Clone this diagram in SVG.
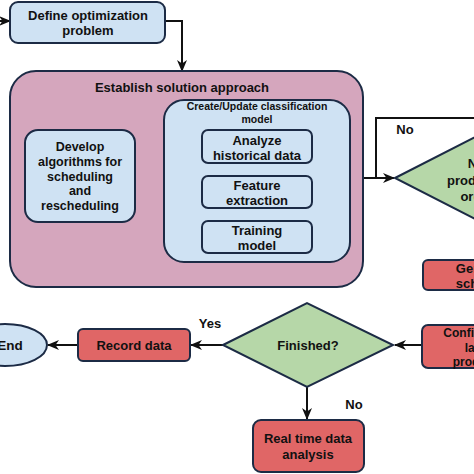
<svg xmlns="http://www.w3.org/2000/svg" width="474" height="474" viewBox="0 0 474 474">
<style>
.t{font-family:"Liberation Sans",Arial,sans-serif;font-weight:bold;fill:#111;text-anchor:middle;dominant-baseline:central}
.s{stroke:#1c2b45;stroke-width:2}
.blue{fill:#cfe2f3}
.pink{fill:#d5a6bd}
.green{fill:#b6d7a8}
.red{fill:#e06666}
.c{fill:none;stroke:#111;stroke-width:2}
</style>
<defs>
<marker id="ah" viewBox="0 0 12 10" refX="11" refY="5" markerWidth="12" markerHeight="10" markerUnits="userSpaceOnUse" orient="auto">
<path d="M0,0 L12,5 L0,10 L3.5,5 z" fill="#111"/>
</marker>
</defs>
<rect width="474" height="474" fill="#fff"/>
<g id="connectors">
<path class="c" d="M0,21 L10,21" marker-end="url(#ah)"/>
<path class="c" d="M165,21 L182,21 L182,71" marker-end="url(#ah)"/>
<path class="c" d="M363,178 L394,178" marker-end="url(#ah)"/>
<path class="c" d="M474,118 L376,118 L376,178"/>
<path class="c" d="M422,345 L395,345" marker-end="url(#ah)"/>
<path class="c" d="M223,345 L191,345" marker-end="url(#ah)"/>
<path class="c" d="M78,345 L48,345" marker-end="url(#ah)"/>
<path class="c" d="M307,387 L307,419" marker-end="url(#ah)"/>
<text class="t" x="405" y="129" font-size="13">No</text>
<text class="t" x="210" y="323" font-size="13">Yes</text>
<text class="t" x="354" y="404" font-size="13">No</text>
</g>
<g id="define">
<rect class="s blue" x="10" y="2" width="155" height="41" rx="8"/>
<text class="t" x="88" y="15" font-size="13">Define optimization</text>
<text class="t" x="88" y="30" font-size="13">problem</text>
</g>
<g id="establish">
<rect class="s pink" x="10" y="71" width="353" height="216" rx="26"/>
<text class="t" x="182" y="87" font-size="13">Establish solution approach</text>
</g>
<g id="develop">
<rect class="s blue" x="25" y="130" width="110" height="92" rx="13"/>
<text class="t" x="80" y="147" font-size="12.5">Develop</text>
<text class="t" x="80" y="162" font-size="12.5">algorithms for</text>
<text class="t" x="80" y="177" font-size="12.5">scheduling</text>
<text class="t" x="80" y="191" font-size="12.5">and</text>
<text class="t" x="80" y="206" font-size="12.5">rescheduling</text>
</g>
<g id="classification">
<rect class="s blue" x="164" y="100" width="186" height="162" rx="20"/>
<text class="t" x="257" y="106" font-size="10.5">Create/Update classification</text>
<text class="t" x="257" y="119" font-size="10.5">model</text>
</g>
<g id="analyze">
<rect class="s blue" x="202" y="130" width="110" height="33" rx="6"/>
<text class="t" x="257" y="140" font-size="13">Analyze</text>
<text class="t" x="257" y="155" font-size="13">historical data</text>
</g>
<g id="feature">
<rect class="s blue" x="202" y="176" width="110" height="32" rx="6"/>
<text class="t" x="257" y="185" font-size="13">Feature</text>
<text class="t" x="257" y="200" font-size="13">extraction</text>
</g>
<g id="training">
<rect class="s blue" x="202" y="221" width="110" height="32" rx="6"/>
<text class="t" x="257" y="230" font-size="13">Training</text>
<text class="t" x="257" y="245" font-size="13">model</text>
</g>
<g id="neworder">
<polygon class="s green" points="395,178 481,134 567,178 481,222"/>
<text class="t" x="481" y="163" font-size="13">New</text>
<text class="t" x="481" y="180" font-size="13">production</text>
<text class="t" x="481" y="196" font-size="13">order?</text>
</g>
<g id="generate">
<rect class="s red" x="423" y="260" width="120" height="30" rx="5"/>
<text class="t" x="484" y="268" font-size="13">Generate</text>
<text class="t" x="484" y="283" font-size="13">schedule</text>
</g>
<g id="configure">
<rect class="s red" x="422" y="325" width="124" height="43" rx="6"/>
<text class="t" x="484" y="333" font-size="12">Configure and</text>
<text class="t" x="484" y="348" font-size="12">launch</text>
<text class="t" x="484" y="362" font-size="12">production</text>
</g>
<g id="finished">
<polygon class="s green" points="223,345 307,303 393,345 307,387"/>
<text class="t" x="308" y="345" font-size="13">Finished?</text>
</g>
<g id="record">
<rect class="s red" x="78" y="329" width="112" height="32" rx="5"/>
<text class="t" x="134" y="345" font-size="13">Record data</text>
</g>
<g id="end">
<ellipse class="s blue" cx="5" cy="345" rx="42" ry="21"/>
<text class="t" x="10" y="345" font-size="13.5">End</text>
</g>
<g id="realtime">
<rect class="s red" x="253" y="420" width="111" height="52" rx="8"/>
<text class="t" x="308" y="438" font-size="13">Real time data</text>
<text class="t" x="308" y="454" font-size="13">analysis</text>
</g>
</svg>
